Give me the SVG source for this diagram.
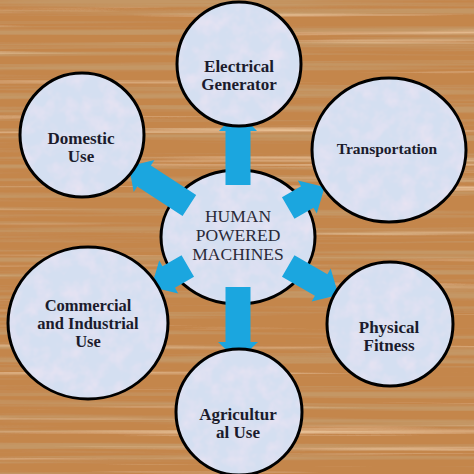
<svg xmlns="http://www.w3.org/2000/svg" width="474" height="474" viewBox="0 0 474 474">
<defs>
<filter id="wood" x="0" y="0" width="100%" height="100%">
<feTurbulence type="fractalNoise" baseFrequency="0.0015 0.14" numOctaves="4" seed="11" result="n"/>
<feColorMatrix in="n" type="matrix" values="0 0 0 0 0.55  0 0 0 0 0.31  0 0 0 0 0.13  4 0 0 0 -1.85" result="g"/>
<feColorMatrix in="n" type="matrix" values="0 0 0 0 0.86  0 0 0 0 0.6  0 0 0 0 0.36  0 -3 0 0 1.15" result="l"/>
<feComposite in="g" in2="SourceGraphic" operator="over" result="a"/>
<feComposite in="l" in2="a" operator="over"/>
</filter>
<filter id="tex" x="0" y="0" width="100%" height="100%">
<feTurbulence type="fractalNoise" baseFrequency="0.06" numOctaves="3" seed="2" result="n"/>
<feColorMatrix in="n" type="matrix" values="0 0 0 0 0.88  0 0 0 0 0.78  0 0 0 0 0.9  1.2 0 0 0 -0.45" result="s"/>
<feComposite in="s" in2="SourceGraphic" operator="atop"/>
</filter>
<style>
.disc{fill:#d4dff1;stroke:none;filter:url(#tex)}
.ring{fill:none;stroke:#000;stroke-width:3}
text{font-family:'Liberation Serif','Times New Roman','DejaVu Serif',serif}
.lbl{font-weight:bold;font-size:17px;fill:#1b1b2c;text-anchor:middle}
.hub{font-size:17.5px;fill:#2a2a38;text-anchor:middle}
.arr{fill:#1ba6df}
</style>
</defs>
<rect x="0" y="0" width="474" height="474" fill="#c4864c" filter="url(#wood)"/>
<g id="hub">
<ellipse class="disc" cx="238" cy="237" rx="77" ry="67"/>
<ellipse class="ring" cx="238" cy="237" rx="77" ry="67"/>
</g>
<g id="connectors">
<polygon class="arr" transform="translate(238,237) rotate(-90)" points="52,-12.5 106,-12.5 106,-19 126,0 106,19 106,12.5 52,12.5"/>
<polygon class="arr" transform="translate(238,237) rotate(90)" points="50,-12.5 105,-12.5 105,-20 124,0 105,20 105,12.5 50,12.5"/>
<polygon class="arr" transform="translate(238,237) rotate(-30)" points="58,-12.5 80,-12.5 80,-19 100,0 80,19 80,12.5 58,12.5"/>
<polygon class="arr" transform="translate(238,237) rotate(30)" points="58,-12.5 96,-12.5 96,-19 116,0 96,19 96,12.5 58,12.5"/>
<polygon class="arr" transform="translate(238,237) rotate(150)" points="58,-12.5 80,-12.5 80,-19 100,0 80,19 80,12.5 58,12.5"/>
<polygon class="arr" transform="translate(238,237) rotate(213)" points="58,-12.5 112,-12.5 112,-19 130,0 112,19 112,12.5 58,12.5"/>
</g>
<g id="hub-label">
<text class="hub" x="238" y="222">HUMAN</text>
<text class="hub" x="238" y="241">POWERED</text>
<text class="hub" x="238" y="260">MACHINES</text>
</g>
<g id="electrical">
<ellipse class="disc" cx="239" cy="64" rx="62" ry="62"/>
<ellipse class="ring" cx="239" cy="64" rx="62" ry="62"/>
<text class="lbl" x="239" y="72">Electrical</text>
<text class="lbl" x="239" y="90">Generator</text>
</g>
<g id="transportation">
<ellipse class="disc" cx="389" cy="150" rx="77" ry="72"/>
<ellipse class="ring" cx="389" cy="150" rx="77" ry="72"/>
<text class="lbl" x="387" y="154" style="font-size:15.5px">Transportation</text>
</g>
<g id="domestic">
<ellipse class="disc" cx="82" cy="135" rx="62" ry="62"/>
<ellipse class="ring" cx="82" cy="135" rx="62" ry="62"/>
<text class="lbl" x="81" y="144">Domestic</text>
<text class="lbl" x="81" y="162">Use</text>
</g>
<g id="commercial">
<ellipse class="disc" cx="88" cy="323" rx="80" ry="76"/>
<ellipse class="ring" cx="88" cy="323" rx="80" ry="76"/>
<text class="lbl" x="88" y="311" style="font-size:16.5px">Commercial</text>
<text class="lbl" x="88" y="329" style="font-size:16.5px">and Industrial</text>
<text class="lbl" x="88" y="347" style="font-size:16.5px">Use</text>
</g>
<g id="fitness">
<ellipse class="disc" cx="390" cy="324" rx="63" ry="62"/>
<ellipse class="ring" cx="390" cy="324" rx="63" ry="62"/>
<text class="lbl" x="389" y="333">Physical</text>
<text class="lbl" x="389" y="351">Fitness</text>
</g>
<g id="agricultural">
<ellipse class="disc" cx="239" cy="412" rx="63" ry="63"/>
<ellipse class="ring" cx="239" cy="412" rx="63" ry="63"/>
<text class="lbl" x="238" y="420">Agricultur</text>
<text class="lbl" x="238" y="438">al Use</text>
</g>
</svg>
